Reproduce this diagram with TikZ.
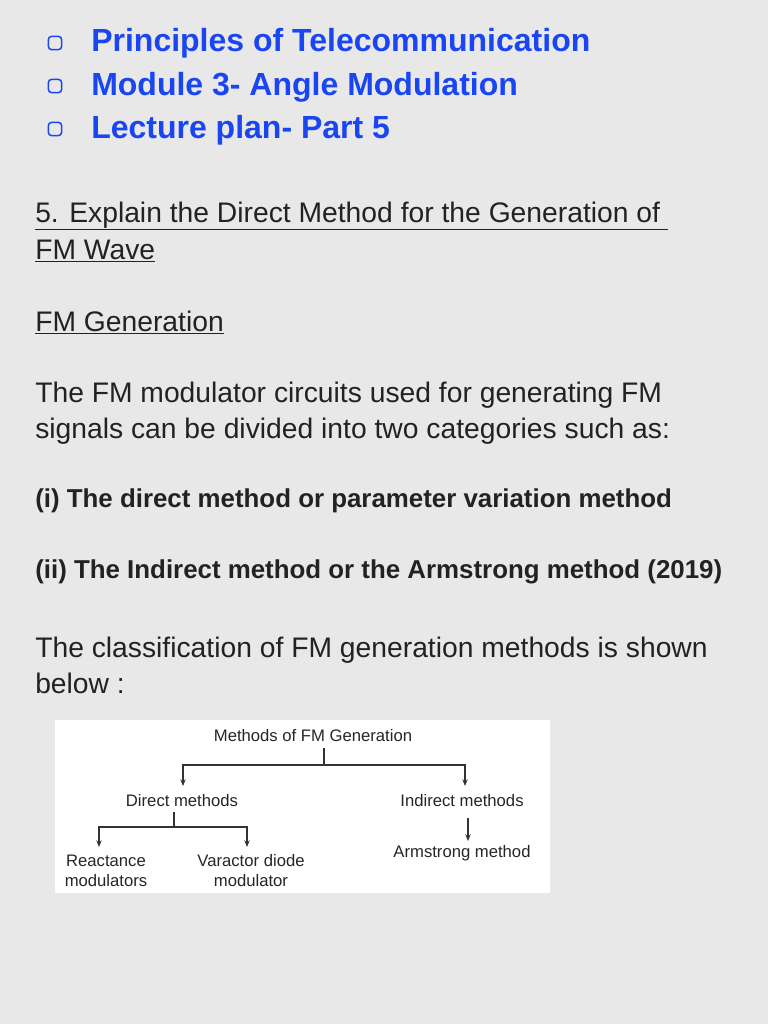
\documentclass[tikz,border=0pt]{standalone}
\usepackage{fontspec}
\usetikzlibrary{arrows.meta}
\setmainfont{Liberation Sans}
\definecolor{bg}{HTML}{E8E8E8}
\definecolor{hblue}{HTML}{1A45F2}
\definecolor{txt}{HTML}{222222}
\begin{document}
\begin{tikzpicture}[x=0.75pt,y=-0.75pt,
  head/.style={anchor=base west,inner sep=0,text=hblue,font=\fontsize{24}{28}\selectfont\bfseries},
  body/.style={anchor=base west,inner sep=0,text=txt,font=\fontsize{21.2}{25}\selectfont},
  bodyb/.style={anchor=base west,inner sep=0,text=txt,font=\fontsize{19.4}{23}\selectfont\bfseries},
  bul/.style={draw=hblue,line width=1.1pt,rounded corners=2.5pt,minimum size=10pt,inner sep=0},
  dt/.style={inner sep=0,text=black!85,font=\fontsize{12.5}{14.5}\selectfont,align=center,anchor=base},
  ln/.style={line width=0.9pt,black!80},
  ar/.style={ln,-{Stealth[length=5pt,width=4pt]}}]
\fill[bg] (0,0) rectangle (768,1024);
\useasboundingbox (0,0) rectangle (768,1024);
\foreach \y/\n in {43/b1,86/b2,129/b3}{\node[bul] (\n) at (55,\y) {};}
\node[head] (h1) at (91,52) {Principles of Telecommunication};
\node[head] (h2) at (91,95) {Module 3- Angle Modulation};
\node[head] (h3) at (91,138) {Lecture plan- Part 5};
\node[body] (q1) at (35,222) {\underline{5. Explain the Direct Method for the Generation of\ }};
\node[body] (q2) at (35,259) {\underline{FM Wave}};
\node[body] (fg) at (35,331) {\underline{FM Generation}};
\node[body] (p1) at (35,402) {The FM modulator circuits used for generating FM};
\node[body] (p2) at (35,438) {signals can be divided into two categories such as:};
\node[bodyb] (i1) at (35,507) {(i) The direct method or parameter variation method};
\node[bodyb] (i2) at (35,578) {(ii) The Indirect method or the Armstrong method (2019)};
\node[body] (c1) at (35,657) {The classification of FM generation methods is shown};
\node[body] (c2) at (35,693) {below :};
\fill[white] (55,720) rectangle (550,893);
\node[dt] (m) at (313,741) {Methods of FM Generation};
\node[dt] (d) at (182,806) {Direct methods};
\node[dt] (ind) at (462,806) {Indirect methods};
\node[dt] (r) at (106,886) {Reactance\\modulators};
\node[dt] (v) at (251,886) {Varactor diode\\modulator};
\node[dt] (a) at (462,857) {Armstrong method};
\coordinate (mj) at (324,765);
\coordinate (dj) at (174,827);
\draw[ln] (324,748) -- (mj);
\draw[ar] (mj) -| (183,786);
\draw[ar] (mj) -| (465,786);
\draw[ln] (174,812) -- (dj);
\draw[ar] (dj) -| (99,847);
\draw[ar] (dj) -| (247,847);
\draw[ar] (468,818) -- (468,841);
\end{tikzpicture}
\end{document}
